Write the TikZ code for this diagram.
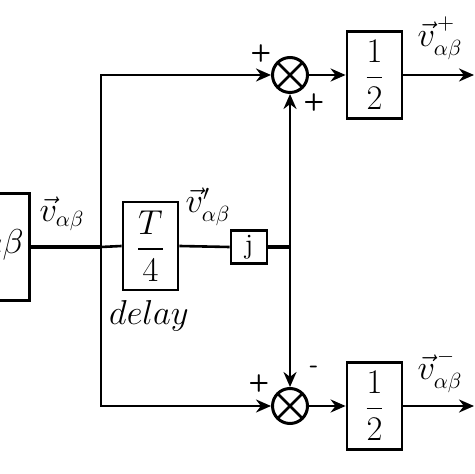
\documentclass[tikz,border=0pt]{standalone}
\usepackage{amsmath}
\usetikzlibrary{arrows.meta}
\begin{document}
\begin{tikzpicture}[x=0.5pt,y=-0.5pt,
  line width=1.3pt,
  lbl/.style={font=\fontsize{16}{18}\selectfont},
  blk/.style={draw,line width=1.4pt,inner sep=0pt,minimum width=27.5pt,minimum height=44pt,lbl},
  sumn/.style={draw,circle,line width=1.5pt,minimum size=17.5pt,inner sep=0pt,
    path picture={\draw[line width=1.4pt] (path picture bounding box.north west)--(path picture bounding box.south east)
      (path picture bounding box.south west)--(path picture bounding box.north east);}},
  arr/.style={-{Stealth[length=7.5pt,width=6.5pt]}},
  sgn/.style={font=\sffamily\bfseries\fontsize{12}{14}\selectfont}]
\useasboundingbox (0,0) rectangle (474,474);

% blocks
\node[draw,line width=1.4pt,minimum width=25pt,minimum height=53.5pt,anchor=east] (src) at (31,247) {};
\node[lbl,anchor=east,inner sep=0pt] (srct) at (25,245) {$\alpha\beta$};
\node[blk] (d) at (150.5,246) {$\dfrac{T}{4}$};
\node[draw,line width=1.4pt,minimum width=18pt,minimum height=16.5pt,inner sep=0pt,font=\fontsize{14}{16}\selectfont] (j) at (249,247) {j};
\node[sumn] (s1) at (290,75) {};
\node[sumn] (s2) at (290,406) {};
\node[blk,minimum height=43.5pt] (h1) at (374.5,75) {$\dfrac{1}{2}$};
\node[blk,minimum height=43.5pt] (h2) at (374.5,406) {$\dfrac{1}{2}$};

\coordinate (J1) at (101,247);
\coordinate (J2) at (290,247);
\coordinate (o1) at (474,75);
\coordinate (o2) at (474,406);

% connectors
\draw[line width=2pt] (src.east) -- (J1);
\draw (J1) -- (d.west);
\draw (d.east) -- (j.west);
\draw[line width=1.8pt] (j.east) -- (J2);
\draw[arr] (J1) |- (s1.west);
\draw[arr] (J1) |- (s2.west);
\draw[arr] (J2) -- (s1.south);
\draw[arr] (J2) -- (s2.north);
\draw[arr] (s1.east) -- (h1.west);
\draw[arr] (s2.east) -- (h2.west);
\draw[arr] (h1.east) -- (o1);
\draw[arr] (h2.east) -- (o2);

% labels
\node[lbl] (l1) at (62,214) {$\vec{v}_{\alpha\beta}$};
\node[lbl] (l2) at (208,207) {$\vec{v}'_{\alpha\beta}$};
\node[lbl] (l3) at (440,38) {${\vec{v}}^{\kern1pt\raisebox{2.5pt}{$\scriptstyle+$}}_{\alpha\beta}$};
\node[lbl] (l4) at (440,371) {${\vec{v}}^{\kern1pt\raisebox{2.5pt}{$\scriptstyle-$}}_{\alpha\beta}$};
\node[font=\fontsize{16}{18}\selectfont] (dl) at (149,316) {$delay$};
\node[sgn] at (261,54) {+};
\node[sgn] at (314,103) {+};
\node[sgn] at (314,369) {-};
\node[sgn] at (259,383) {+};
\end{tikzpicture}
\end{document}
